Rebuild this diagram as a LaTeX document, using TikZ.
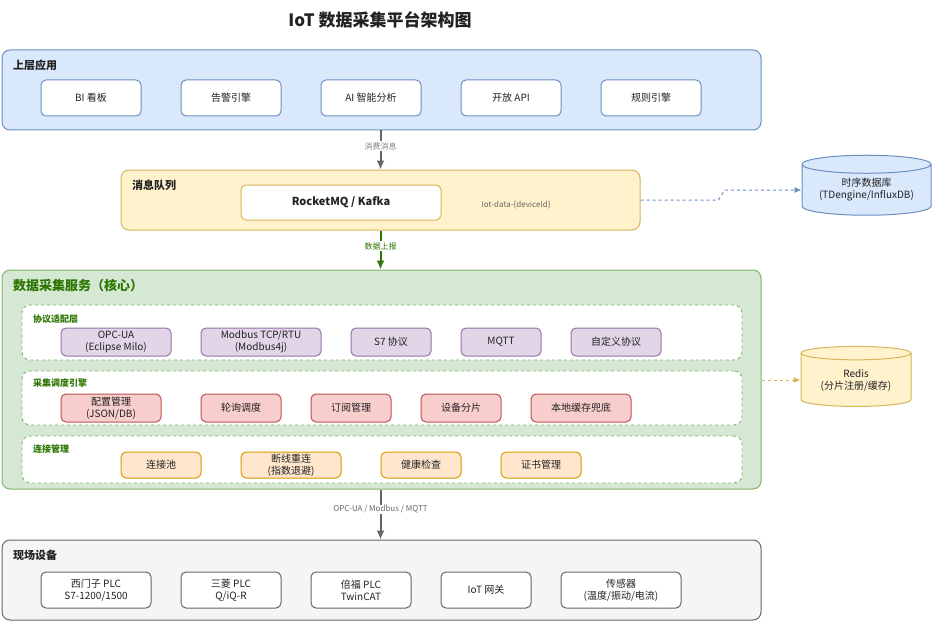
\documentclass[tikz,border=0pt]{standalone}
\usepackage{fontspec}
\setmainfont{Noto Sans CJK SC}
\usepackage{tikz}
\usetikzlibrary{arrows.meta,shapes.geometric}
\definecolor{bluefill}{HTML}{DAE8FC}
\definecolor{blueline}{HTML}{6C8EBF}
\definecolor{yellowfill}{HTML}{FFF2CC}
\definecolor{yellowline}{HTML}{D6B656}
\definecolor{greenfill}{HTML}{D5E8D4}
\definecolor{greenline}{HTML}{82B366}
\definecolor{greentext}{HTML}{2D7600}
\definecolor{purplefill}{HTML}{E1D5E7}
\definecolor{purpleline}{HTML}{9673A6}
\definecolor{redfill}{HTML}{F8CECC}
\definecolor{redline}{HTML}{B85450}
\definecolor{orangefill}{HTML}{FFE6CC}
\definecolor{orangeline}{HTML}{D79B00}
\definecolor{grayfill}{HTML}{F5F5F5}
\definecolor{grayline}{HTML}{666666}
\definecolor{textdark}{HTML}{222222}

\begin{document}
\begin{tikzpicture}[x=1pt,y=-1pt,>={Latex[length=9pt,width=8pt]},font=\fontsize{10}{12}\selectfont,text=textdark,
  layer/.style={draw,rounded corners=8pt,line width=1pt,inner sep=0pt,minimum width=759pt},
  sublayer/.style={draw=greenline,dashed,fill=white,rounded corners=8pt,line width=0.9pt,inner sep=0pt,minimum width=720pt},
  box/.style={draw,rounded corners=5pt,fill=white,inner sep=0pt,align=center,line width=1pt},
  db/.style={cylinder,shape border rotate=90,aspect=0.19,draw,line width=1pt,inner sep=0pt,align=center},
  title/.style={anchor=west,inner sep=0pt,font=\fontsize{11}{13}\selectfont\bfseries},
  subtitle/.style={anchor=west,inner sep=0pt,text=greentext,font=\fontsize{9}{11}\selectfont\bfseries},
  lbl/.style={fill=white,inner sep=1pt,font=\fontsize{8}{10}\selectfont}]
  \useasboundingbox (0,0) rectangle (934,623);
  \node[font=\fontsize{17}{20}\selectfont\bfseries] (head) at (380,20) {IoT 数据采集平台架构图};
  % upper applications
  \node[layer,draw=blueline,fill=bluefill,minimum height=80pt] (app) at (381.5,90) {};
  \node[title] (appt) at (13,65) {上层应用};
  \foreach \n/\cx/\t in {bi/91/BI 看板, alarm/231/告警引擎, ai/371/AI 智能分析, api/511/开放 API, rule/651/规则引擎}
    \node[box,draw=blueline,minimum width=100pt,minimum height=36pt] (\n) at (\cx,98) {\t};
  % message queue
  \node[layer,draw=yellowline,fill=yellowfill,minimum width=519pt,minimum height=60pt] (mq) at (380.5,200) {};
  \node[title] (mqt) at (132,185) {消息队列};
  \node[box,draw=yellowline,minimum width=200pt,minimum height=35pt,font=\fontsize{11}{13}\selectfont\bfseries] (rocket) at (341,202.5) {RocketMQ / Kafka};
  \node[font=\fontsize{8}{10}\selectfont,text=grayline] (topic) at (516,205) {Iot-data-\{deviceId\}};
  \node[db,draw=blueline,fill=bluefill,minimum width=129pt,minimum height=60pt] (tsdb) at (866.5,190) {时序数据库\\(TDengine/InfluxDB)};
  % collection service (core)
  \node[layer,draw=greenline,fill=greenfill,minimum height=219pt] (core) at (381.5,379.5) {};
  \node[title,text=greentext,font=\fontsize{13}{15}\selectfont\bfseries] (coret) at (13,286) {数据采集服务（核心）};
  \node[sublayer,minimum height=55pt] (proto) at (382,332.5) {};
  \node[sublayer,minimum height=54pt] (sched) at (382,398) {};
  \node[sublayer,minimum height=47pt] (conn) at (382,459.5) {};
  \node[subtitle] (protot) at (33,319) {协议适配层};
  \node[subtitle] (schedt) at (33,383) {采集调度引擎};
  \node[subtitle] (connt) at (33,449) {连接管理};
  \foreach \n/\cx/\w/\t in {opc/116/110/{OPC-UA\\(Eclipse Milo)}, modbus/261/120/{Modbus TCP/RTU\\(Modbus4j)},
      siemens/391/80/S7 协议, mqtt/501/80/MQTT, custom/616/90/自定义协议}
    \node[box,draw=purpleline,fill=purplefill,minimum width=\w pt,minimum height=28pt] (\n) at (\cx,342) {\t};
  \foreach \n/\cx/\w/\t in {cfg/111/100/{配置管理\\(JSON/DB)}, poll/241/80/轮询调度, sub/351/80/订阅管理,
      shard/461/80/设备分片, cache/581/100/本地缓存兜底}
    \node[box,draw=redline,fill=redfill,minimum width=\w pt,minimum height=28pt] (\n) at (\cx,408) {\t};
  \foreach \n/\cx/\w/\t in {pool/161/80/连接池, retry/291/100/{断线重连\\(指数退避)}, health/421/80/健康检查, cert/541/80/证书管理}
    \node[box,draw=orangeline,fill=orangefill,minimum width=\w pt,minimum height=26pt] (\n) at (\cx,465) {\t};
  \node[db,draw=yellowline,fill=yellowfill,minimum width=110pt,minimum height=60pt] (redis) at (856,380) {Redis\\(分片注册/缓存)};
  % field devices
  \node[layer,draw=grayline,fill=grayfill,minimum height=80pt] (field) at (381.5,580) {};
  \node[title] (fieldt) at (13,555) {现场设备};
  \foreach \n/\cx/\w/\t in {s7/96/110/{西门子 PLC\\S7-1200/1500}, mitsu/231/100/{三菱 PLC\\Q/iQ-R}, beck/361/100/{倍福 PLC\\TwinCAT},
      gw/486/90/IoT 网关, sensor/621/120/{传感器\\(温度/振动/电流)}}
    \node[box,draw=grayline,minimum width=\w pt,minimum height=36pt] (\n) at (\cx,590) {\t};
  % connectors
  \draw[->,line width=2pt,grayline] (mq.north |- app.south) -- node[lbl,text=gray,pos=0.4] (consume) {消费消息} (mq.north);
  \draw[->,line width=2pt,greentext] (mq.south) -- node[lbl,text=greentext,pos=0.4] (report) {数据上报} (mq.south |- core.north);
  \draw[->,line width=2pt,grayline] (mq.south |- core.south) -- node[lbl,text=grayline,pos=0.4] (linkproto) {OPC-UA / Modbus / MQTT} (mq.south |- field.north);
  \draw[-{Latex[length=7pt,width=6pt]},dashed,blueline,line width=1pt] (mq.east) -- ++(78,0) -- ++(6,-10) -- (tsdb.west);
  \draw[-{Latex[length=7pt,width=6pt]},dashed,yellowline,line width=1pt] (core.east |- redis.west) -- (redis.west);
\end{tikzpicture}
\end{document}
